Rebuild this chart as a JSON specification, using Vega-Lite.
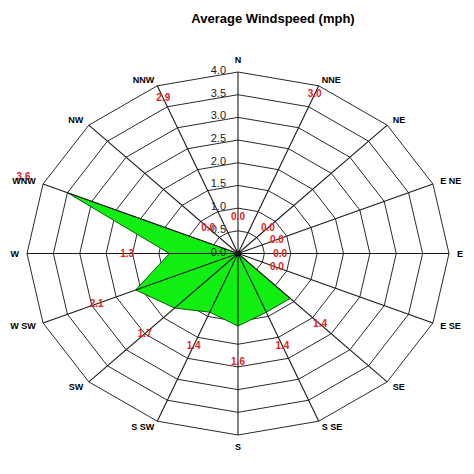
{
  "$schema": "https://vega.github.io/schema/vega-lite/v6.json",
  "width": 422,
  "height": 363,
  "autosize": {"type": "none"},
  "padding": {"left": 27, "top": 72, "right": 25, "bottom": 39},
  "background": "white",
  "title": {
    "text": "Average Windspeed  (mph)",
    "font": "Liberation Sans",
    "fontSize": 13,
    "fontWeight": "bold",
    "color": "#000000",
    "anchor": "middle",
    "frame": "group",
    "dx": 35,
    "offset": 24,
    "baseline": "middle"
  },
  "datasets": {
    "dirs": [
      {"dir": "N", "idx": 0, "speed": 0, "label": 0.0},
      {"dir": "NNE", "idx": 1, "speed": 0, "label": 3.0},
      {"dir": "NE", "idx": 2, "speed": 0, "label": 0.0},
      {"dir": "E NE", "idx": 3, "speed": 0, "label": 0.0},
      {"dir": "E", "idx": 4, "speed": 0, "label": 0.0},
      {"dir": "E SE", "idx": 5, "speed": 0, "label": 0.0},
      {"dir": "SE", "idx": 6, "speed": 1.4, "label": 1.4},
      {"dir": "S SE", "idx": 7, "speed": 1.4, "label": 1.4},
      {"dir": "S", "idx": 8, "speed": 1.6, "label": 1.6},
      {"dir": "S SW", "idx": 9, "speed": 1.4, "label": 1.4},
      {"dir": "SW", "idx": 10, "speed": 1.7, "label": 1.7},
      {"dir": "W SW", "idx": 11, "speed": 2.1, "label": 2.1},
      {"dir": "W", "idx": 12, "speed": 1.3, "label": 1.3},
      {"dir": "WNW", "idx": 13, "speed": 3.5, "label": 3.6},
      {"dir": "NW", "idx": 14, "speed": 0, "label": 0.0},
      {"dir": "NNW", "idx": 15, "speed": 0, "label": 2.9}
    ],
    "levels": [
      {"level": 0},
      {"level": 0.5, "idx": [0,1,2,3,4,5,6,7,8,9,10,11,12,13,14,15]},
      {"level": 1.0, "idx": [0,1,2,3,4,5,6,7,8,9,10,11,12,13,14,15]},
      {"level": 1.5, "idx": [0,1,2,3,4,5,6,7,8,9,10,11,12,13,14,15]},
      {"level": 2.0, "idx": [0,1,2,3,4,5,6,7,8,9,10,11,12,13,14,15]},
      {"level": 2.5, "idx": [0,1,2,3,4,5,6,7,8,9,10,11,12,13,14,15]},
      {"level": 3.0, "idx": [0,1,2,3,4,5,6,7,8,9,10,11,12,13,14,15]},
      {"level": 3.5, "idx": [0,1,2,3,4,5,6,7,8,9,10,11,12,13,14,15]},
      {"level": 4.0, "idx": [0,1,2,3,4,5,6,7,8,9,10,11,12,13,14,15]}
    ]
  },
  "layer": [
    {
      "data": {"name": "levels"},
      "transform": [
        {"filter": "datum.level > 0"},
        {"flatten": ["idx"]},
        {"calculate": "datum.level * sin(datum.idx * PI / 8)", "as": "gx"},
        {"calculate": "datum.level * cos(datum.idx * PI / 8)", "as": "gy"}
      ],
      "mark": {"type": "line", "interpolate": "linear-closed", "stroke": "#2a2a2a", "strokeWidth": 1},
      "encoding": {
        "x": {"field": "gx", "type": "quantitative", "scale": {"domain": [-4, 4], "nice": false, "zero": false}},
        "y": {"field": "gy", "type": "quantitative", "scale": {"domain": [-4, 4], "nice": false, "zero": false}},
        "detail": {"field": "level", "type": "nominal"},
        "order": {"field": "idx", "type": "quantitative"}
      }
    },
    {
      "data": {"name": "dirs"},
      "transform": [
        {"calculate": "datum.speed * sin(datum.idx * PI / 8)", "as": "px"},
        {"calculate": "datum.speed * cos(datum.idx * PI / 8)", "as": "py"}
      ],
      "mark": {"type": "line", "interpolate": "linear-closed", "fill": "#11ee11", "stroke": "#0b5e0b", "strokeWidth": 1},
      "encoding": {
        "x": {"field": "px", "type": "quantitative"},
        "y": {"field": "py", "type": "quantitative"},
        "order": {"field": "idx", "type": "quantitative"}
      }
    },
    {
      "data": {"name": "dirs"},
      "transform": [
        {"calculate": "0", "as": "o"},
        {"calculate": "4 * sin(datum.idx * PI / 8)", "as": "ex"},
        {"calculate": "4 * cos(datum.idx * PI / 8)", "as": "ey"}
      ],
      "mark": {"type": "rule", "stroke": "#1a1a1a", "strokeWidth": 1.1},
      "encoding": {
        "x": {"field": "o", "type": "quantitative"},
        "y": {"field": "o", "type": "quantitative"},
        "x2": {"field": "ex"},
        "y2": {"field": "ey"}
      }
    },
    {
      "data": {"name": "levels"},
      "transform": [{"filter": "datum.level == 0"}],
      "mark": {"type": "point", "filled": true, "color": "#000000", "size": 30, "opacity": 1},
      "encoding": {
        "x": {"field": "level", "type": "quantitative"},
        "y": {"field": "level", "type": "quantitative"}
      }
    },
    {
      "data": {"name": "levels"},
      "transform": [{"calculate": "0", "as": "o"}],
      "mark": {"type": "text", "align": "right", "baseline": "middle", "dx": -12, "dy": -1, "font": "Liberation Sans", "fontSize": 11, "color": "#222222"},
      "encoding": {
        "x": {"field": "o", "type": "quantitative"},
        "y": {"field": "level", "type": "quantitative"},
        "text": {"field": "level", "type": "quantitative", "format": ".1f"}
      }
    },
    {
      "data": {"name": "dirs"},
      "transform": [
        {"calculate": "(datum.label + 0.8) * sin(datum.idx * PI / 8)", "as": "lx"},
        {"calculate": "(datum.label + 0.8) * cos(datum.idx * PI / 8)", "as": "ly"}
      ],
      "mark": {"type": "text", "align": "center", "baseline": "middle", "font": "Liberation Sans", "fontSize": 10, "fontWeight": "bold", "color": "#e52222"},
      "encoding": {
        "x": {"field": "lx", "type": "quantitative"},
        "y": {"field": "ly", "type": "quantitative"},
        "text": {"field": "label", "type": "quantitative", "format": ".1f"}
      }
    },
    {
      "data": {"name": "dirs"},
      "transform": [
        {"filter": "datum.idx == 0 || datum.idx == 8"},
        {"calculate": "4.27 * sin(datum.idx * PI / 8)", "as": "tx"},
        {"calculate": "4.27 * cos(datum.idx * PI / 8)", "as": "ty"}
      ],
      "mark": {"type": "text", "align": "center", "baseline": "middle", "font": "Liberation Sans", "fontSize": 9, "fontWeight": "bold", "color": "#000000"},
      "encoding": {
        "x": {"field": "tx", "type": "quantitative"},
        "y": {"field": "ty", "type": "quantitative"},
        "text": {"field": "dir"}
      }
    },
    {
      "data": {"name": "dirs"},
      "transform": [
        {"filter": "datum.idx > 0 && datum.idx < 8"},
        {"calculate": "4.15 * sin(datum.idx * PI / 8)", "as": "tx"},
        {"calculate": "4.15 * cos(datum.idx * PI / 8)", "as": "ty"}
      ],
      "mark": {"type": "text", "align": "left", "baseline": "middle", "font": "Liberation Sans", "fontSize": 9, "fontWeight": "bold", "color": "#000000"},
      "encoding": {
        "x": {"field": "tx", "type": "quantitative"},
        "y": {"field": "ty", "type": "quantitative"},
        "text": {"field": "dir"}
      }
    },
    {
      "data": {"name": "dirs"},
      "transform": [
        {"filter": "datum.idx > 8"},
        {"calculate": "4.15 * sin(datum.idx * PI / 8)", "as": "tx"},
        {"calculate": "4.15 * cos(datum.idx * PI / 8)", "as": "ty"}
      ],
      "mark": {"type": "text", "align": "right", "baseline": "middle", "font": "Liberation Sans", "fontSize": 9, "fontWeight": "bold", "color": "#000000"},
      "encoding": {
        "x": {"field": "tx", "type": "quantitative"},
        "y": {"field": "ty", "type": "quantitative"},
        "text": {"field": "dir"}
      }
    }
  ],
  "config": {
    "view": {"stroke": null},
    "axis": {"disable": true}
  }
}
